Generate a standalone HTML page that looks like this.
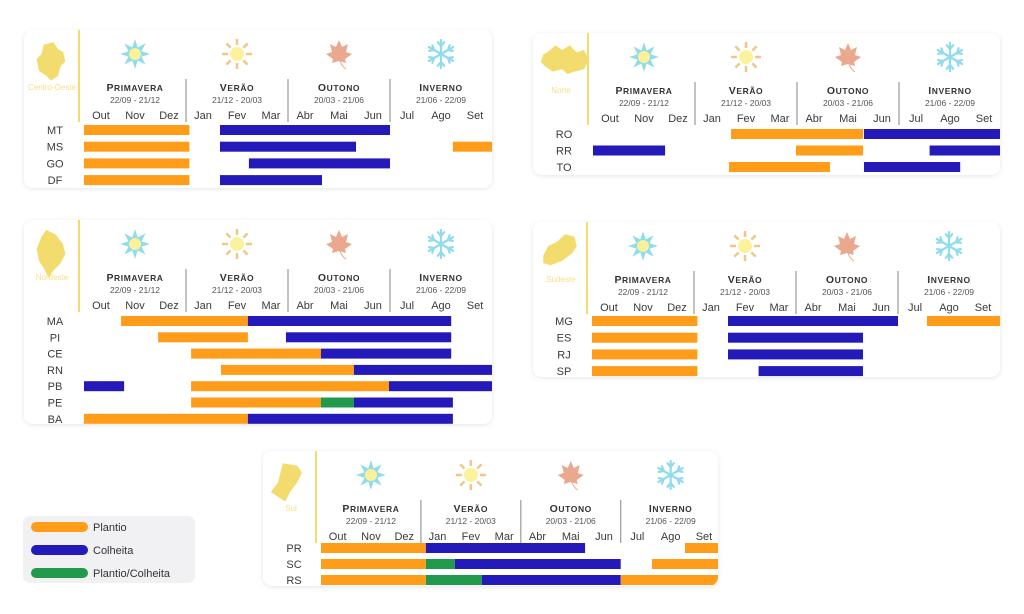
<!DOCTYPE html>
<html><head><meta charset="utf-8">
<style>
html,body{margin:0;padding:0;background:#fff;}
svg{display:block;font-family:"Liberation Sans",sans-serif;}
</style></head>
<body>
<svg id="chart" width="1024" height="614" viewBox="0 0 1024 614" xmlns="http://www.w3.org/2000/svg">
<defs>
<filter id="sh" x="-5%" y="-10%" width="110%" height="130%"><feDropShadow dx="0" dy="1" stdDeviation="2.5" flood-color="#000" flood-opacity="0.10"/></filter>
</defs>
</svg>
<script>
const monthLabels = ["Out","Nov","Dez","Jan","Fev","Mar","Abr","Mai","Jun","Jul","Ago","Set"];
const seasonNames = ["Primavera","Verão","Outono","Inverno"];
const seasonDates = ["22/09 - 21/12","21/12 - 20/03","20/03 - 21/06","21/06 - 22/09"];

const coStates = ["MT","MS","GO","DF"];
const coSegments = [["MT","p",0,3.1],["MT","c",4,9],["MS","p",0,3.1],["MS","c",4,8],["MS","p",10.85,12],["GO","p",0,3.1],["GO","c",4.85,9],["DF","p",0,3.1],["DF","c",4,7]];

const neStates = ["MA","PI","CE","RN","PB","PE","BA"];
const neSegments = [["MA","p",1.09,4.82],["MA","c",4.82,10.8],["PI","p",2.18,4.82],["PI","c",5.94,10.8],["CE","p",3.15,6.97],["CE","c",6.97,10.8],["RN","p",4.03,7.94],["RN","c",7.94,12],["PB","c",0,1.18],["PB","p",3.15,8.97],["PB","c",8.97,12],["PE","p",3.15,6.97],["PE","g",6.97,7.94],["PE","c",7.94,10.85],["BA","p",0,4.82],["BA","c",4.82,10.85]];

const noStates = ["RO","RR","TO"];
const noSegments = [["RO","p",4.06,7.94],["RO","c",7.97,12],["RR","c",0,2.12],["RR","p",5.97,7.94],["RR","c",9.9,12],["TO","p",4,6.97],["TO","c",7.97,10.8]];

const seStates = ["MG","ES","RJ","SP"];
const seSegments = [["MG","p",0,3.1],["MG","c",4,9],["MG","p",9.85,12],["ES","p",0,3.1],["ES","c",4,7.97],["RJ","p",0,3.1],["RJ","c",4,7.97],["SP","p",0,3.1],["SP","c",4.9,7.97]];

const suStates = ["PR","SC","RS"];
const suSegments = [["PR","p",0,3.15],["PR","c",3.15,7.93],["PR","p",10.93,12],["SC","p",0,3.15],["SC","g",3.15,4.02],["SC","c",4.02,9],["SC","p",9.94,12],["RS","p",0,3.15],["RS","g",3.15,4.83],["RS","c",4.83,9],["RS","p",9,12]];

const legendLabels = ["Plantio","Colheita","Plantio/Colheita"];
const colors = {p:"#ff9c1a", c:"#2419b9", g:"#229a4e"};

const NS = "http://www.w3.org/2000/svg";
const svg = document.getElementById("chart");
function mk(tag, attrs, parent){
  const e = document.createElementNS(NS, tag);
  for (const k in attrs) e.setAttribute(k, attrs[k]);
  (parent||svg).appendChild(e);
  return e;
}

const maps = {
 "Centro-Oeste":"M14,8 L22,6 L26,12 L30,14 L32,22 L28,26 L26,34 L20,38 L16,34 L10,30 L8,20 L12,16Z",
 "Nordeste":"M16,4 L24,8 L30,16 L32,24 L28,32 L22,38 L18,44 L14,36 L10,30 L8,20 L12,10Z",
 "Norte":"M6,14 L12,10 L16,6 L22,10 L28,6 L34,12 L40,10 L44,18 L40,26 L32,28 L26,30 L22,26 L14,28 L8,24 L4,20Z",
 "Sudeste":"M6,24 L10,16 L18,12 L24,6 L32,8 L34,16 L30,22 L22,28 L12,32 L6,30Z",
 "Sul":"M14,6 L26,8 L30,14 L26,22 L20,30 L16,38 L10,34 L4,30 L10,22 L12,14Z"
};

function drawIcons(g, cx, cy, i){
  if (i===0){
    const pts=[]; for(let k=0;k<16;k++){const r=k%2?7:15;const a=k*Math.PI/8-Math.PI/2;pts.push((cx+r*Math.cos(a)).toFixed(1)+","+(cy+r*Math.sin(a)).toFixed(1));}
    const f=mk("polygon",{points:pts.join(" "),fill:"#8fdcea"},g);
    
    
    mk("circle",{cx:cx,cy:cy,r:6,fill:"#fbf19a"},g);
  } else if (i===1){
    for(let k=0;k<8;k++){const a=k*Math.PI/4;mk("line",{x1:cx+9*Math.cos(a),y1:cy+9*Math.sin(a),x2:cx+15*Math.cos(a),y2:cy+15*Math.sin(a),stroke:"#f0c78a","stroke-width":2.5},g);}
    const s=mk("circle",{cx:cx,cy:cy,r:7,fill:"#fbf29e"},g);
    
    
  } else if (i===2){
    const l=mk("path",{d:`M${cx},${cy-14} L${cx+3},${cy-7} L${cx+9},${cy-10} L${cx+7},${cy-2} L${cx+13},${cy} L${cx+6},${cy+5} L${cx+7},${cy+9} L${cx},${cy+7} L${cx-7},${cy+9} L${cx-6},${cy+5} L${cx-13},${cy} L${cx-7},${cy-2} L${cx-9},${cy-10} L${cx-3},${cy-7}Z`,fill:"#eaa88e"},g);
    
    
    mk("path",{d:`M${cx},${cy+4} Q${cx+2},${cy+12} ${cx+7},${cy+15}`,stroke:"#eaa88e","stroke-width":1,fill:"none"},g);
  } else {
    const sg=mk("g",{stroke:"#8fdcea","stroke-width":2.2,"stroke-linecap":"round"},g);
    
    
    for(let k=0;k<6;k++){const a=k*Math.PI/3-Math.PI/2;const x2=cx+14*Math.cos(a),y2=cy+14*Math.sin(a);
      mk("line",{x1:cx,y1:cy,x2:x2,y2:y2},sg);
      const mx=cx+8*Math.cos(a),my=cy+8*Math.sin(a);
      for(const d of [-0.7,0.7]){mk("line",{x1:mx,y1:my,x2:mx+5*Math.cos(a+d),y2:my+5*Math.sin(a+d)},sg);}
    }
  }
}

function panel(cfg){
  const g = mk("g",{});
  
  
  const bg = mk("rect",{x:cfg.x,y:cfg.y,width:cfg.w,height:cfg.h,rx:9,fill:"#fff",filter:"url(#sh)"},g);
  
  
  const cp = mk("clipPath",{id:"cp-"+cfg.key},g);
  mk("rect",{x:cfg.x,y:cfg.y,width:cfg.w,height:cfg.h,rx:9},cp);
  const X = m => cfg.origin + m*cfg.unit;
  const top = cfg.y;
  const mp = mk("path",{d:maps[cfg.name],fill:"#f3dc6e",transform:`translate(${cfg.x+3},${top+5}) scale(1.2)`},g);
  
  
  const rl = mk("text",{x:cfg.x+28,y:top+60,"text-anchor":"middle","font-size":8,fill:"#f5df85"},g);
  rl.textContent = cfg.name;
  
  
  mk("line",{x1:cfg.origin-5,y1:top,x2:cfg.origin-5,y2:top+92,stroke:"#f3dc6e","stroke-width":2},g);
  for(let s=0;s<4;s++){
    const cx = X(s*3+1.5);
    drawIcons(g, cx, top+24, s);
    const t = mk("text",{x:cx,y:top+61,"text-anchor":"middle","font-size":10.5,"font-weight":"bold",fill:"#333","letter-spacing":"0.6"},g);
    t.textContent = seasonNames[s][0].toUpperCase();
    const ts = mk("tspan",{"font-size":8.5},t);
    ts.textContent = seasonNames[s].slice(1).toUpperCase();
    
    
    const d = mk("text",{x:cx,y:top+73,"text-anchor":"middle","font-size":8.5,fill:"#555"},g);
    d.textContent = seasonDates[s];
    
    
    if(s>0){ mk("line",{x1:X(s*3),y1:top+49,x2:X(s*3),y2:top+92,stroke:"#999","stroke-width":1.2},g); }
  }
  monthLabels.forEach((m,i)=>{
    const t = mk("text",{x:X(i+0.5),y:top+89,"text-anchor":"middle","font-size":11,fill:"#3a3a3a"},g);
    t.textContent = m;
    
    
  });
  const bars = mk("g",{"clip-path":`url(#cp-${cfg.key})`},g);
  cfg.states.forEach((st,i)=>{
    const cy = top + cfg.row0 + i*cfg.rowH;
    const t = mk("text",{x:cfg.x+31,y:cy+4,"text-anchor":"middle","font-size":11,fill:"#3a3a3a"},g);
    t.textContent = st;
    
    
  });
  cfg.segs.forEach(sg=>{
    const i = cfg.states.indexOf(sg[0]);
    const cy = top + cfg.row0 + i*cfg.rowH;
    const x1 = X(sg[2]), x2 = Math.min(X(sg[3]), cfg.x+cfg.w+2);
    const r = mk("rect",{x:x1,y:cy-5,width:x2-x1,height:10,fill:colors[sg[1]]},bars);
    
    
  });
}

panel({key:"centro-oeste",name:"Centro-Oeste",x:24,y:30,w:468,h:158,origin:84,unit:34,row0:100,rowH:16.7,states:coStates,segs:coSegments});
panel({key:"nordeste",name:"Nordeste",x:24,y:220,w:468,h:204,origin:84,unit:34,row0:101,rowH:16.3,states:neStates,segs:neSegments});
panel({key:"norte",name:"Norte",x:533,y:33,w:467,h:142,origin:593,unit:34,row0:101,rowH:16.5,states:noStates,segs:noSegments});
panel({key:"sudeste",name:"Sudeste",x:533,y:222,w:467,h:155,origin:592,unit:34,row0:99,rowH:16.7,states:seStates,segs:seSegments});
panel({key:"sul",name:"Sul",x:263,y:451,w:455,h:135,origin:321,unit:33.3,row0:97,rowH:16,states:suStates,segs:suSegments});

const lg = mk("g",{});


mk("rect",{x:23,y:516,width:172,height:67,rx:7,fill:"#f1f1f4"},lg);
["p","c","g"].forEach((k,i)=>{
  const cy = 527 + i*23;
  const e = mk("g",{},lg);
  
  
  mk("rect",{x:31,y:cy-5,width:57,height:10,rx:5,fill:colors[k]},e);
  const t = mk("text",{x:93,y:cy+4,"font-size":11,fill:"#333"},e);
  t.textContent = legendLabels[i];
});
</script>
</body></html>
